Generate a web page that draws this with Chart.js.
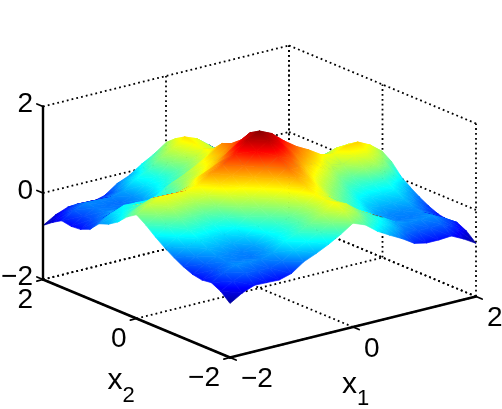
<!DOCTYPE html>
<html><head><meta charset="utf-8">
<style>html,body{margin:0;padding:0;background:#fff}canvas{display:block}</style>
<script src="https://cdn.jsdelivr.net/npm/chart.js@4"></script>
</head><body><canvas id="c" width="502" height="409"></canvas>
<script>
// ---- data -----------------------------------------------------------
const x1Values = [-2,-1.8,-1.6,-1.4,-1.2,-1,-0.8,-0.6,-0.4,-0.2,0,0.2,0.4,0.6,0.8,1,1.2,1.4,1.6,1.8,2];
const x2Values = [-2,-1.8,-1.6,-1.4,-1.2,-1,-0.8,-0.6,-0.4,-0.2,0,0.2,0.4,0.6,0.8,1,1.2,1.4,1.6,1.8,2];
// one row per x2 value, one column per x1 value
const zRows = [
[-.75,-.58,-.47,-.48,-.49,-.41,-.21,-.09,.05,.21,.40,.29,.07,-.09,-.24,-.42,-.48,-.48,-.46,-.60,-.77],
[-.56,-.39,-.28,-.29,-.30,-.22,-.02,.10,.24,.40,.59,.48,.26,.10,-.05,-.23,-.29,-.29,-.27,-.41,-.58],
[-.45,-.28,-.17,-.18,-.19,-.11,.09,.21,.35,.51,.70,.59,.37,.21,.06,-.12,-.18,-.18,-.16,-.30,-.47],
[-.48,-.31,-.20,-.21,-.22,-.14,.06,.18,.32,.48,.67,.56,.34,.18,.03,-.15,-.21,-.21,-.19,-.33,-.50],
[-.44,-.27,-.16,-.18,-.19,-.11,.09,.21,.35,.51,.71,.59,.37,.21,.06,-.12,-.18,-.18,-.16,-.30,-.46],
[-.35,-.18,-.07,-.08,-.09,-.01,.19,.31,.45,.61,.80,.69,.47,.31,.16,-.02,-.08,-.08,-.06,-.20,-.37],
[-.23,-.06,.05,.04,.03,.11,.31,.43,.57,.73,.92,.81,.59,.43,.28,.10,.04,.04,.06,-.08,-.25],
[-.09,.08,.19,.18,.17,.25,.45,.57,.71,.87,1.06,.95,.73,.57,.42,.24,.18,.18,.20,.06,-.11],
[.07,.24,.35,.34,.33,.41,.61,.73,.87,1.03,1.22,1.11,.89,.73,.58,.40,.34,.46,.48,.34,.05],
[.25,.42,.53,.52,.51,.59,.79,.91,1.05,1.33,1.50,1.36,1.07,.91,.76,.58,.52,.64,.66,.52,.30],
[.40,.57,.68,.67,.66,.74,.94,1.06,1.24,1.50,1.63,1.50,1.26,1.06,.91,.73,.67,.79,.81,.67,.45],
[.26,.43,.54,.53,.52,.60,.80,.92,1.06,1.33,1.50,1.36,1.08,.92,.77,.59,.53,.65,.67,.53,.31],
[.05,.22,.33,.32,.31,.39,.59,.71,.85,1.01,1.24,1.09,.87,.71,.56,.38,.32,.44,.46,.32,.03],
[-.09,.08,.19,.18,.17,.25,.45,.57,.71,.87,1.07,.95,.73,.57,.42,.24,.18,.18,.20,.06,-.11],
[-.17,0,.11,.10,.09,.17,.37,.49,.63,.79,.98,.87,.65,.49,.34,.16,.10,.10,.12,-.02,-.19],
[-.39,-.22,-.11,-.12,-.13,-.05,.15,.27,.41,.57,.76,.65,.43,.27,.12,-.06,-.12,-.12,-.10,-.24,-.41],
[-.48,-.31,-.20,-.21,-.22,-.14,.06,.18,.32,.48,.67,.56,.34,.18,.03,-.15,-.21,-.21,-.19,-.33,-.50],
[-.50,-.33,-.22,-.23,-.24,-.16,.04,.16,.38,.54,.73,.62,.40,.16,.01,-.17,-.23,-.23,-.21,-.35,-.52],
[-.46,-.29,-.18,-.19,-.20,-.12,.08,.20,.42,.58,.77,.66,.44,.20,.05,-.13,-.19,-.19,-.17,-.31,-.48],
[-.59,-.42,-.31,-.32,-.33,-.25,-.05,.07,.29,.45,.64,.53,.31,.07,-.08,-.26,-.32,-.32,-.30,-.44,-.61],
[-.75,-.58,-.47,-.48,-.49,-.41,-.21,-.09,.10,.26,.46,.35,.12,-.09,-.24,-.42,-.48,-.48,-.46,-.60,-.77]
];
const axisTicks = [-2,0,2];
const tickText = {'-2':'\u22122','0':'0','2':'2'};
const x1Name = 'x', x1Sub = '1', x2Name = 'x', x2Sub = '2';

// ---- view: maps (x1,x2,z) onto the chart's x/y scales ------------------
const view = {cx:259.5, cy:288, x1:[61.5,-15.25], x2:[-46.75,-19.5], z:43.25};
const project = (a,b,z) => ({
  x: view.cx + view.x1[0]*a + view.x2[0]*b,
  y: view.cy + view.x1[1]*a + view.x2[1]*b - view.z*(z+2)
});
const colorLimits = [-0.77, 1.65];
const jetStops = [[0,'#00008f'],[0.11,'#0000ff'],[0.36,'#00ffff'],[0.61,'#ffff00'],[0.86,'#ff0000'],[1,'#800000']];

const surfacePoints = [];
zRows.forEach((row,j)=>row.forEach((z,i)=>surfacePoints.push(project(x1Values[i],x2Values[j],z))));

const line = (pts,dash,width,order) => ({
  type:'scatter', showLine:true, data:pts, pointRadius:0, borderColor:'#000', backgroundColor:'#000',
  borderWidth:width, borderDash:dash, fill:false, order, borderCapStyle:dash?'butt':'round', tension:0
});
const dots = pts => line(pts,[1.8,3.1],1.8,2);
const solid = (pts,w) => line(pts,undefined,w,0);
const datasets = [{type:'scatter', label:'surface', data:surfacePoints, pointRadius:0, showLine:false, order:1}];
// dotted box grid
axisTicks.forEach(t=>{
  datasets.push(dots([project(-2,2,t),project(2,2,t)]));
  datasets.push(dots([project(2,2,t),project(2,-2,t)]));
  datasets.push(dots([project(t,2,-2),project(t,2,2)]));
  datasets.push(dots([project(2,t,-2),project(2,t,2)]));
  datasets.push(dots([project(t,-2,-2),project(t,2,-2)]));
  datasets.push(dots([project(-2,t,-2),project(2,t,-2)]));
});
// axis lines and ticks
datasets.push(solid([project(-2,2,-2),project(-2,2,2)],2.4));
datasets.push(solid([project(-2,2,-2),project(-2,-2,-2)],2.6));
datasets.push(solid([project(-2,-2,-2),project(2,-2,-2)],2.6));
axisTicks.forEach(t=>{
  datasets.push(solid([project(-2,2,t),project(-2,2.13,t)],1.8));
  datasets.push(solid([project(-2,t,-2),project(-2.1,t,-2)],1.8));
  datasets.push(solid([project(t,-2,-2),project(t,-2.13,-2)],1.8));
});

const surfacePlugin = {
  id:'surface',
  afterDatasetDraw(chart,args){
    if(args.index!==0) return;
    const pts = args.meta.data, ctx = chart.ctx, n = x1Values.length;
    const at = (i,j)=>({x:pts[j*n+i].x, y:pts[j*n+i].y, z:zRows[j][i]});
    const flat = v=>{
      const t=Math.min(1,Math.max(0,(v-colorLimits[0])/(colorLimits[1]-colorLimits[0])));
      const g=ctx.createLinearGradient(-t*1e3,0,(1-t)*1e3,0);
      jetStops.forEach(s=>g.addColorStop(s[0],s[1]));
      return g;
    };
    const tri = (p,q,r)=>{
      const d=(q.x-p.x)*(r.y-p.y)-(r.x-p.x)*(q.y-p.y);
      if(Math.abs(d)<1e-6) return;
      const a=((q.z-p.z)*(r.y-p.y)-(r.z-p.z)*(q.y-p.y))/d;
      const b=((r.z-p.z)*(q.x-p.x)-(q.z-p.z)*(r.x-p.x))/d;
      const g2=a*a+b*b;
      let fill;
      const pos=v=>({x:p.x+a*(v-p.z)/g2,y:p.y+b*(v-p.z)/g2});
      if(g2<1e-9){ fill=flat(p.z); }
      else{
        const A=pos(colorLimits[0]),B=pos(colorLimits[1]);
        fill=ctx.createLinearGradient(A.x,A.y,B.x,B.y);
        jetStops.forEach(s=>fill.addColorStop(s[0],s[1]));
      }
      ctx.beginPath();ctx.moveTo(p.x,p.y);ctx.lineTo(q.x,q.y);ctx.lineTo(r.x,r.y);ctx.closePath();
      ctx.fillStyle=fill;ctx.strokeStyle=fill;ctx.lineWidth=0.7;ctx.lineJoin='round';ctx.fill();ctx.stroke();
    };
    ctx.save();
    for(let j=n-2;j>=0;j--) for(let i=n-2;i>=0;i--){
      const a=at(i,j),b=at(i+1,j),c=at(i,j+1),d=at(i+1,j+1);
      tri(b,c,d); tri(a,b,c);
    }
    ctx.restore();
  }
};

const textPlugin = {
  id:'labels',
  afterDraw(chart){
    const ctx=chart.ctx, sx=chart.scales.x, sy=chart.scales.y;
    const px=p=>({x:sx.getPixelForValue(p.x),y:sy.getPixelForValue(p.y)});
    const put=(s,p,dx,dy,align,size)=>{
      ctx.font=size+'px "Liberation Sans"';ctx.textAlign=align;ctx.textBaseline='middle';ctx.fillStyle='#000';
      ctx.fillText(s,p.x+dx,p.y+dy);
    };
    ctx.save();
    axisTicks.forEach(t=>{
      put(tickText[t],px(project(-2,2,t)),-10,-2,'right',28);
      put(tickText[t],px(project(-2,t,-2)),-10,21,'right',28);
      put(tickText[t],px(project(t,-2,-2)),11,22,'left',28);
    });
    put(x2Name,px(project(-2,0,-2)),-29,62,'left',30);
    put(x2Sub,px(project(-2,0,-2)),-14,77,'left',22);
    put(x1Name,px(project(0,-2,-2)),-11,58,'left',30);
    put(x1Sub,px(project(0,-2,-2)),4,72,'left',22);
    ctx.restore();
  }
};

new Chart(document.getElementById('c'),{
  type:'scatter',
  data:{datasets},
  plugins:[surfacePlugin,textPlugin],
  options:{
    responsive:false, animation:false, devicePixelRatio:1,
    layout:{padding:0},
    plugins:{legend:{display:false},tooltip:{enabled:false}},
    scales:{
      x:{type:'linear',min:0,max:502,display:false},
      y:{type:'linear',min:0,max:409,reverse:true,display:false}
    }
  }
});
</script></body></html>
